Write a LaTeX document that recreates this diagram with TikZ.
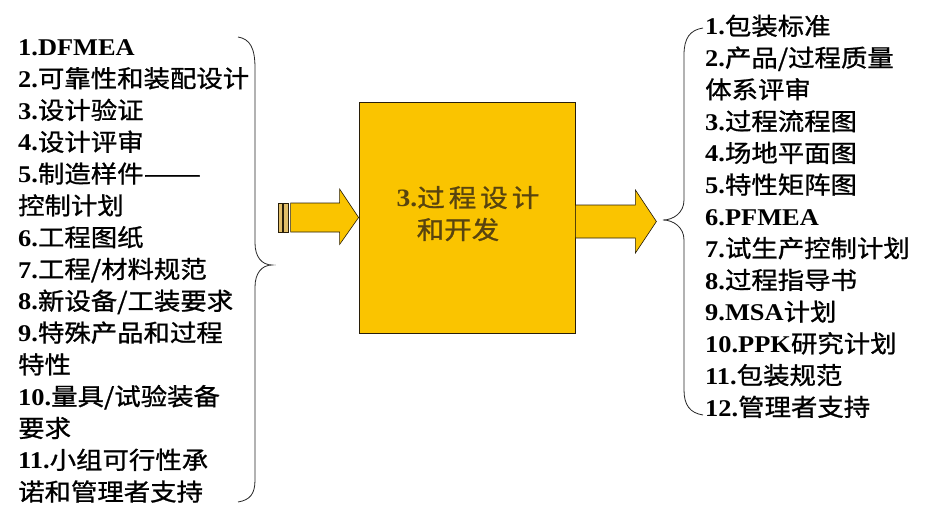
\documentclass[tikz,border=0pt]{standalone}
\usepackage{fontspec}
\usepackage{graphicx}
\setmainfont{Liberation Serif}[FakeStretch=1.1]
\newfontfamily\cjkf{Noto Sans CJK SC}[FakeStretch=1.1,FakeBold=1]
\newcommand\zh[1]{{\cjkf\mdseries #1}}
\usetikzlibrary{calc}
\definecolor{boxyellow}{RGB}{250,196,0}
\definecolor{stripetan}{RGB}{225,190,105}
\definecolor{titlebrown}{RGB}{88,68,15}
\definecolor{edge}{RGB}{40,30,10}
\begin{document}
\begin{tikzpicture}[x=1pt,y=-1pt,
  item/.style={anchor=base west, inner sep=0pt, font=\fontsize{24}{30}\selectfont\bfseries, text=black},
  mainbox/.style={draw=edge, line width=0.8pt, fill=boxyellow, minimum width=216pt, minimum height=231pt, inner sep=0pt},
  titletext/.style={anchor=base, inner sep=0pt, text=titlebrown, font=\fontsize{25}{32}\selectfont\bfseries},
  blockarrow/.style={draw=edge, line width=0.6pt, fill=boxyellow, line join=miter},
  stripe/.style={draw=edge, line width=0.6pt, fill=stripetan},
  bracestyle/.style={draw=black!85, line width=0.8pt}]
\useasboundingbox (0,0) rectangle (932,524);
\fill[white] (0,0) rectangle (932,524);

% left list
\foreach [count=\i] \t in {
  {1.DFMEA},
  {2.\zh{可靠性和装配设计}},
  {3.\zh{设计验证}},
  {4.\zh{设计评审}},
  {5.\zh{制造样件}\zh{\scalebox{1.3}[1]{——}}},
  {\zh{控制计划}},
  {6.\zh{工程图纸}},
  {7.\zh{工程/材料规范}},
  {8.\zh{新设备/工装要求}},
  {9.\zh{特殊产品和过程}},
  {\zh{特性}},
  {10.\zh{量具/试验装备}},
  {\zh{要求}},
  {11.\zh{小组可行性承}},
  {\zh{诺和管理者支持}}}
  \node[item] (L\i) at (18,{55.5+31.8*(\i-1)}) {\t};

% right list
\foreach [count=\i] \t in {
  {1.\zh{包装标准}},
  {2.\zh{产品/过程质量}},
  {\zh{体系评审}},
  {3.\zh{过程流程图}},
  {4.\zh{场地平面图}},
  {5.\zh{特性矩阵图}},
  {6.PFMEA},
  {7.\zh{试生产控制计划}},
  {8.\zh{过程指导书}},
  {9.MSA\zh{计划}},
  {10.PPK\zh{研究计划}},
  {11.\zh{包装规范}},
  {12.\zh{管理者支持}}}
  \node[item] (R\i) at (705,{35+31.75*(\i-1)}) {\t};

% central box
\node[mainbox] (box) at (467,217.5) {};
\node[titletext] (title1) at (468,207) {3.\zh{过\hspace{4pt}程\hspace{4pt}设\hspace{4pt}计}};
\node[titletext] (title2) at (458,239) {\zh{和开发}};

% left block arrow with stripes
\coordinate (intip) at (box.west);
\draw[blockarrow] ($(intip)+(-68,-14.5)$) -- ($(intip)+(-19,-14.5)$) -- ($(intip)+(-19,-28.5)$)
  -- (intip) -- ($(intip)+(-19,27)$) -- ($(intip)+(-19,14.5)$) -- ($(intip)+(-68,14.5)$) -- cycle;
\draw[stripe] ($(intip)+(-80,-14.5)$) rectangle ($(intip)+(-76.5,14.5)$);
\draw[stripe] ($(intip)+(-75,-14.5)$) rectangle ($(intip)+(-70.5,14.5)$);

% right block arrow
\coordinate (outbase) at ($(box.east)+(0,4)$);
\draw[blockarrow] (outbase) ++(0,-16.5) -- ++(60,0) -- ++(0,-15) -- ++(21,31.5)
  -- ++(-21,31.5) -- ++(0,-15) -- ++(-60,0) -- cycle;

% left brace
\draw[bracestyle] (238,37) .. controls (250,39) and (255,48) .. (255,68) -- (255,243)
  .. controls (255,257) and (262,265) .. (272,265)
  .. controls (262,265) and (255,273) .. (255,287) -- (255,480)
  .. controls (255,494) and (250,500) .. (238,502);

% right brace
\draw[bracestyle] (703,28) .. controls (690,30) and (684,38) .. (684,55) -- (684,200)
  .. controls (684,213) and (673,220) .. (663,220)
  .. controls (673,220) and (684,227) .. (684,240) -- (684,390)
  .. controls (684,405) and (690,413) .. (703,415);
\end{tikzpicture}
\end{document}
